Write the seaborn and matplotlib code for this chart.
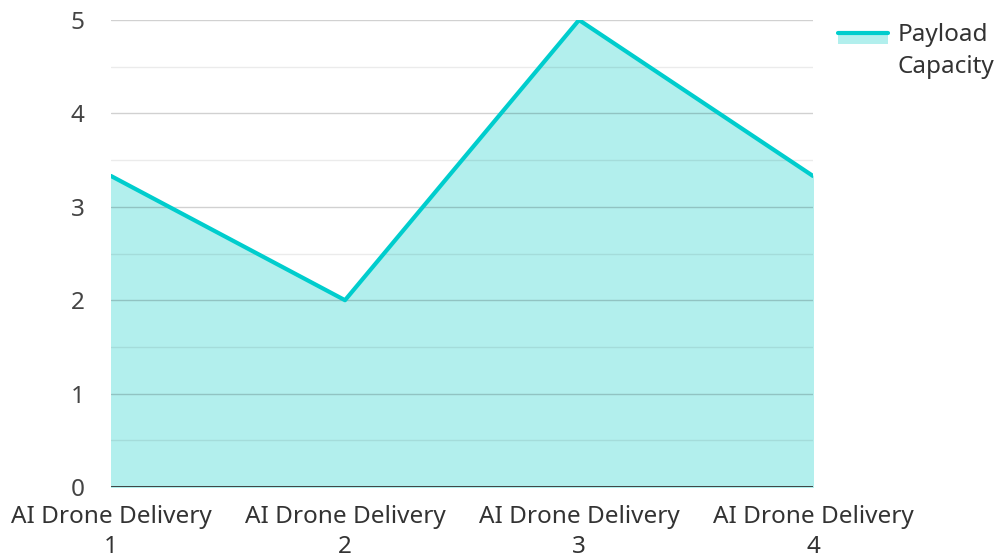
import matplotlib
matplotlib.use("Agg")
import matplotlib.pyplot as plt
import pandas as pd
import seaborn as sns
from matplotlib.legend_handler import HandlerBase
from matplotlib.lines import Line2D
from matplotlib.patches import Rectangle

categories = ["AI Drone Delivery\n1", "AI Drone Delivery\n2", "AI Drone Delivery\n3", "AI Drone Delivery\n4"]
payload = [3.33, 2.0, 5.0, 3.33]
y_ticks = [0, 1, 2, 3, 4, 5]
series_name = "Payload\nCapacity"

LINE = "#00cdcd"
FILL = "#b2efed"
FS = 17.5


class AreaHandler(HandlerBase):
    """Line on top of a filled band, aligned with the first label line."""

    def create_artists(self, legend, orig_handle, xdescent, ydescent, width, height, fontsize, trans):
        top = height * 0.5 + 13
        rect = Rectangle((-xdescent, top - 7.5), width, 7.5,
                         facecolor=FILL, edgecolor="none", transform=trans)
        line = Line2D([-xdescent, width - xdescent], [top, top], color=LINE, lw=3, transform=trans)
        return [rect, line]


sns.set_theme(style="white")
plt.rcParams["font.family"] = ["Noto Sans", "DejaVu Sans"]

df = pd.DataFrame({"pos": range(len(categories)), "value": payload})

fig = plt.figure(figsize=(9.99, 5.59), dpi=100)
ax = fig.add_axes([111 / 999, 72 / 559, 702 / 999, 467 / 559])

ax.fill_between(df["pos"], df["value"], color=FILL, zorder=1)

# grid drawn over the area: integer lines darker, half lines lighter
for v in y_ticks[1:]:
    ax.axhline(v, color="black", alpha=0.18, lw=1, zorder=2)
for v in [0.5, 1.5, 2.5, 3.5, 4.5]:
    ax.axhline(v, color="black", alpha=0.08, lw=1, zorder=2)

sns.lineplot(data=df, x="pos", y="value", color=LINE, lw=3, ax=ax, zorder=3)
ax.axhline(0, color="#333333", lw=2, zorder=4)

ax.set_xlim(0, len(categories) - 1)
ax.set_ylim(0, 5)
ax.set_xticks(df["pos"])
ax.set_xticklabels(categories, fontsize=FS, color="#333333", linespacing=1.35)
ax.set_yticks(y_ticks)
ax.set_yticklabels([str(t) for t in y_ticks], fontsize=FS, color="#444444")
ax.tick_params(axis="x", length=0, pad=13)
ax.tick_params(axis="y", length=0, pad=19)
ax.set_xlabel("")
ax.set_ylabel("")
for s in ax.spines.values():
    s.set_visible(False)

fig.legend([object()], [series_name], handler_map={object: AreaHandler()},
           loc="upper left", bbox_to_anchor=(838 / 999, 1 - 23 / 559),
           frameon=False, fontsize=FS, handlelength=2.05, handletextpad=0.4,
           borderpad=0, borderaxespad=0, labelcolor="#333333")
for t in fig.legends[0].get_texts():
    t.set_linespacing(1.45)

fig.savefig("out.png", dpi=100)
